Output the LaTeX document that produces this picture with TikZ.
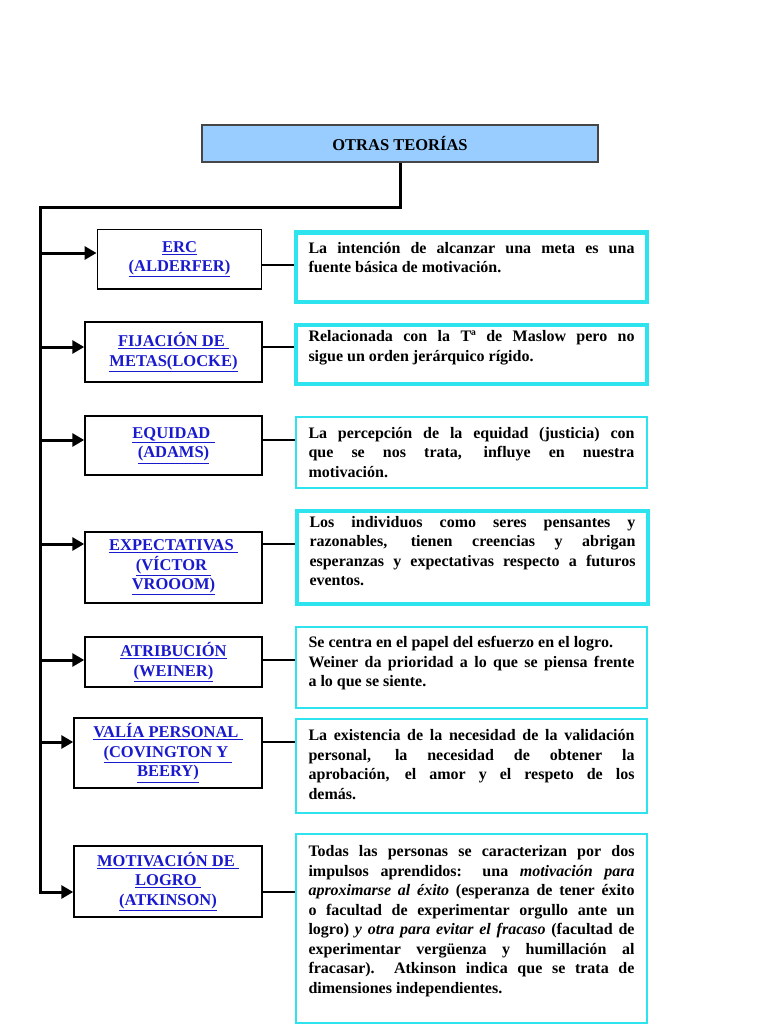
\documentclass[tikz,border=0pt]{standalone}
\usepackage{fontspec}
\setmainfont{Liberation Serif}
\usepackage{xcolor}
\usepackage{tikz}
\usetikzlibrary{arrows.meta}
\definecolor{titleblue}{RGB}{153, 204, 255}
\definecolor{linkblue}{RGB}{25, 25, 205}
\definecolor{notecyan}{RGB}{45, 228, 238}
\definecolor{darkframe}{RGB}{70, 70, 70}
\tolerance=10000
\hbadness=10000
\hyphenpenalty=10000
\exhyphenpenalty=10000
% text of a description box: height, first baseline, text
\newcommand{\notebody}[3]{\parbox[c][#1pt][t]{326pt}{\rule{0pt}{#2pt}#3}}

\begin{document}
\begin{tikzpicture}[
    x=1pt, y=-1pt,
    title/.style={rectangle, draw=darkframe, line width=1.5pt, fill=titleblue, minimum width=396pt, minimum height=37pt, inner sep=0pt, font=\bfseries\fontsize{16.5}{19.5}\selectfont},
    theory/.style={rectangle, draw, line width=1.5pt, fill=white, text=linkblue, align=center, inner sep=0pt, font=\bfseries\fontsize{16.5}{19.5}\selectfont},
    note/.style={rectangle, draw=notecyan, line width=2pt, anchor=north west, inner xsep=12.5pt, inner ysep=0pt, font=\bfseries\fontsize{16}{19.5}\selectfont},
    notethick/.style={note, line width=4pt},
    arrow/.style={-{Triangle[length=12pt, width=13pt]}, line width=3pt},
    link/.style={line width=2.5pt}
]
\useasboundingbox (0,0) rectangle (768,1024);

\node[title] (title) at (400,143.5) {OTRAS TEORÍAS};

% theories
\node[theory, minimum width=164.4pt, minimum height=59.7pt] (erc) at (179.5,259.2) {\underline{ERC}\\\underline{(ALDERFER)}};
\node[theory, minimum width=177pt, minimum height=60pt] (metas) at (173.5,352) {\underline{FIJACIÓN DE\ }\\\underline{METAS(LOCKE)}};
\node[theory, minimum width=177pt, minimum height=59pt] (equidad) at (173.5,445.5) {\underline{EQUIDAD\ }\\\underline{(ADAMS)}};
\node[theory, minimum width=177pt, minimum height=71pt] (expect) at (173.5,567.5) {\underline{EXPECTATIVAS\ }\\\underline{(VÍCTOR\ }\\\underline{VROOOM)}};
\node[theory, minimum width=177pt, minimum height=50pt] (atrib) at (173.5,662) {\underline{ATRIBUCIÓN}\\\underline{(WEINER)}};
\node[theory, minimum width=188pt, minimum height=70pt] (valia) at (168,753) {\underline{VALÍA PERSONAL\ }\\\underline{(COVINGTON Y\ }\\\underline{BEERY)}};
\node[theory, minimum width=188pt, minimum height=71pt] (logro) at (168,881.5) {\underline{MOTIVACIÓN DE\ }\\\underline{LOGRO\ }\\\underline{(ATKINSON)}};

% descriptions
\node[notethick] (d1) at (294,230.5) {\notebody{69.5}{20.5}{La intención de alcanzar una meta es una\linebreak fuente básica de motivación.}};
\node[notethick] (d2) at (294,323) {\notebody{59}{16.5}{Relacionada con la Tª de Maslow pero no\linebreak sigue un orden jerárquico rígido.}};
\node[note] (d3) at (295,416) {\notebody{71}{21.3}{La percepción de la equidad (justicia) con\linebreak que se nos trata, influye en nuestra\linebreak motivación.}};
\node[notethick] (d4) at (295,509) {\notebody{93}{16}{Los individuos como seres pensantes y\linebreak razonables, tienen creencias y abrigan\linebreak esperanzas y expectativas respecto a futuros\linebreak eventos.}};
\node[note] (d5) at (295,626) {\notebody{81}{20.7}{Se centra en el papel del esfuerzo en el logro.\\ Weiner da prioridad a lo que se piensa frente\linebreak a lo que se siente.}};
\node[note] (d6) at (295,718) {\notebody{94}{21.7}{La existencia de la necesidad de la validación\linebreak personal, la necesidad de obtener la\linebreak aprobación, el amor y el respeto de los\linebreak demás.}};
\node[note] (d7) at (295,833) {\notebody{189}{22.7}{Todas las personas se caracterizan por dos\linebreak impulsos aprendidos: una \textit{motivación para\linebreak aproximarse al éxito} (esperanza de tener éxito\linebreak o facultad de experimentar orgullo ante un\linebreak logro) \textit{y otra para evitar el fracaso} (facultad de\linebreak experimentar vergüenza y humillación al\linebreak fracasar).\ \ Atkinson indica que se trata de\linebreak dimensiones independientes.}};

% spine
\coordinate (knee) at (40,207.5);
\coordinate (s1) at (40,253);
\coordinate (c1) at (40,265);
\coordinate (s2) at (40,347);
\coordinate (s3) at (40,440);
\coordinate (s4) at (40,544);
\coordinate (s5) at (40,660);
\coordinate (s6) at (40,742);
\coordinate (s7) at (40,892);

\draw[arrow] (title.south) |- (knee) -- (s7) -- (s7 -| logro.west);
\draw[arrow] (s1) -- (s1 -| erc.west);
\draw[arrow] (s2) -- (s2 -| metas.west);
\draw[arrow] (s3) -- (s3 -| equidad.west);
\draw[arrow] (s4) -- (s4 -| expect.west);
\draw[arrow] (s5) -- (s5 -| atrib.west);
\draw[arrow] (s6) -- (s6 -| valia.west);

\draw[link] (c1 -| erc.east) -- (c1 -| d1.west);
\draw[link] (s2 -| metas.east) -- (s2 -| d2.west);
\draw[link] (s3 -| equidad.east) -- (s3 -| d3.west);
\draw[link] (s4 -| expect.east) -- (s4 -| d4.west);
\draw[link] (s5 -| atrib.east) -- (s5 -| d5.west);
\draw[link] (s6 -| valia.east) -- (s6 -| d6.west);
\draw[link] (s7 -| logro.east) -- (s7 -| d7.west);

\end{tikzpicture}
\end{document}
